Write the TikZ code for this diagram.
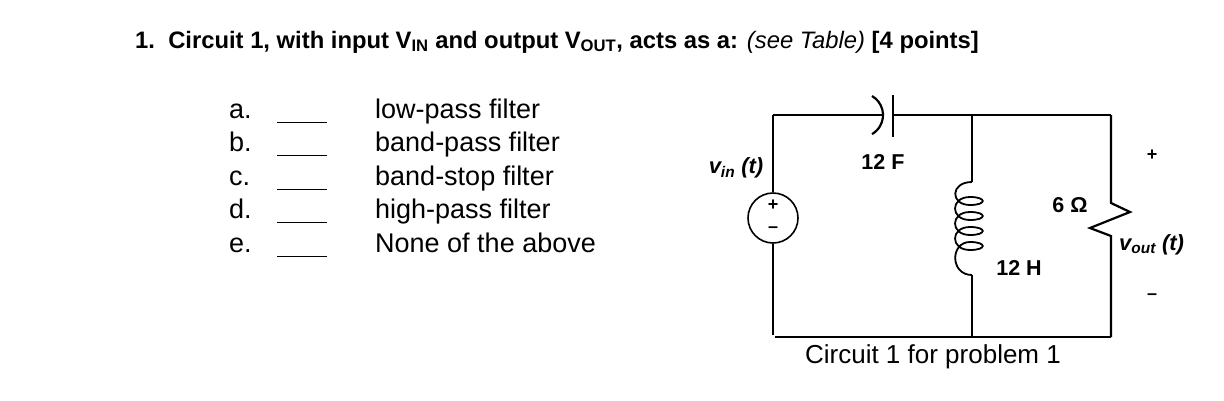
\documentclass[tikz,border=0pt]{standalone}
\usepackage{fontspec}
\setmainfont{Liberation Sans}
\begin{document}
\begin{tikzpicture}[x=1pt,y=-1pt,
  wire/.style={line width=2.2pt},
  lbl/.style={font=\fontsize{21.5}{22}\selectfont\bfseries, inner sep=0pt},
  sgn/.style={font=\fontsize{18}{18}\selectfont\bfseries, inner sep=0pt},
  item/.style={font=\fontsize{27}{28}\selectfont, inner sep=0pt, anchor=base west}]
\useasboundingbox (0,0) rectangle (1224,400);
\node[anchor=base west, inner sep=0pt, font=\fontsize{23.8}{24}\selectfont\bfseries] (title) at (135,48)
 {1.\ \ Circuit 1, with input V\textsubscript{IN} and output V\textsubscript{OUT}, acts as a: \textmd{\itshape (see Table)} [4 points]};
\foreach \l/\t/\y [count=\i] in {a./low-pass filter/118, b./band-pass filter/151.5, c./band-stop filter/185, d./high-pass filter/218.5, e./None of the above/252}{
  \node[item] (l\i) at (229,\y) {\l};
  \node[item] (t\i) at (375,\y) {\t};
  \draw[line width=1pt] (277,\y+4) -- (327,\y+4);
}
\coordinate (tl) at (773,115); \coordinate (bl) at (773,335);
\coordinate (tm) at (972,115); \coordinate (bm) at (972,337);
\coordinate (tr) at (1111,115); \coordinate (br) at (1111,337);
\node[circle, draw, line width=1.6pt, minimum size=50pt, inner sep=0pt] (src) at (773,218) {};
\node[sgn] at (773,205) {+};
\node[sgn] at (773,230) {--};
\draw[wire] (tl) -- (src.north);
\draw[wire] (src.south) -- (bl);
\draw[wire] (tl) -- (883,115);
\draw[wire] (872,96) arc[start angle=-60,end angle=60,radius=22];
\draw[wire] (893,95) -- (893,137);
\draw[wire] (893,115) -- (tr);
\draw[wire] (tm) -- (972,182);
\draw[line width=1.8pt] (972,182)
  .. controls (950,182) and (950,205) .. (970,205)
  .. controls (987,205) and (987,197) .. (970,197)
  .. controls (950,197) and (950,220) .. (970,220)
  .. controls (987,220) and (987,212) .. (970,212)
  .. controls (950,212) and (950,235) .. (970,235)
  .. controls (987,235) and (987,227) .. (970,227)
  .. controls (950,227) and (950,250) .. (970,250)
  .. controls (987,250) and (987,242) .. (970,242)
  .. controls (950,242) and (950,275) .. (972,275);
\draw[wire] (972,275) -- (bm);
\draw[wire] (tr) -- (1111,203) -- (1130,212) -- (1090,228) -- (1111,236) -- (br);
\draw[wire] (775,337) -- (br);
\node[lbl] (c) at (883,162) {12 F};
\node[lbl] (h) at (1019,268) {12 H};
\node[lbl] (r) at (1070,205) {6 Ω};
\node[lbl, font=\fontsize{22}{22}\selectfont\bfseries\itshape] (vin) at (736,168) {v\textsubscript{in} (t)};
\node[lbl, font=\fontsize{22}{22}\selectfont\bfseries\itshape, anchor=west] (vout) at (1119,245) {v\textsubscript{out} (t)};
\node[sgn] at (1152,155) {+};
\node[sgn] at (1152,297) {--};
\node[font=\fontsize{26}{26}\selectfont, inner sep=0pt] (cap) at (933,357) {Circuit 1 for problem 1};
\end{tikzpicture}
\end{document}
